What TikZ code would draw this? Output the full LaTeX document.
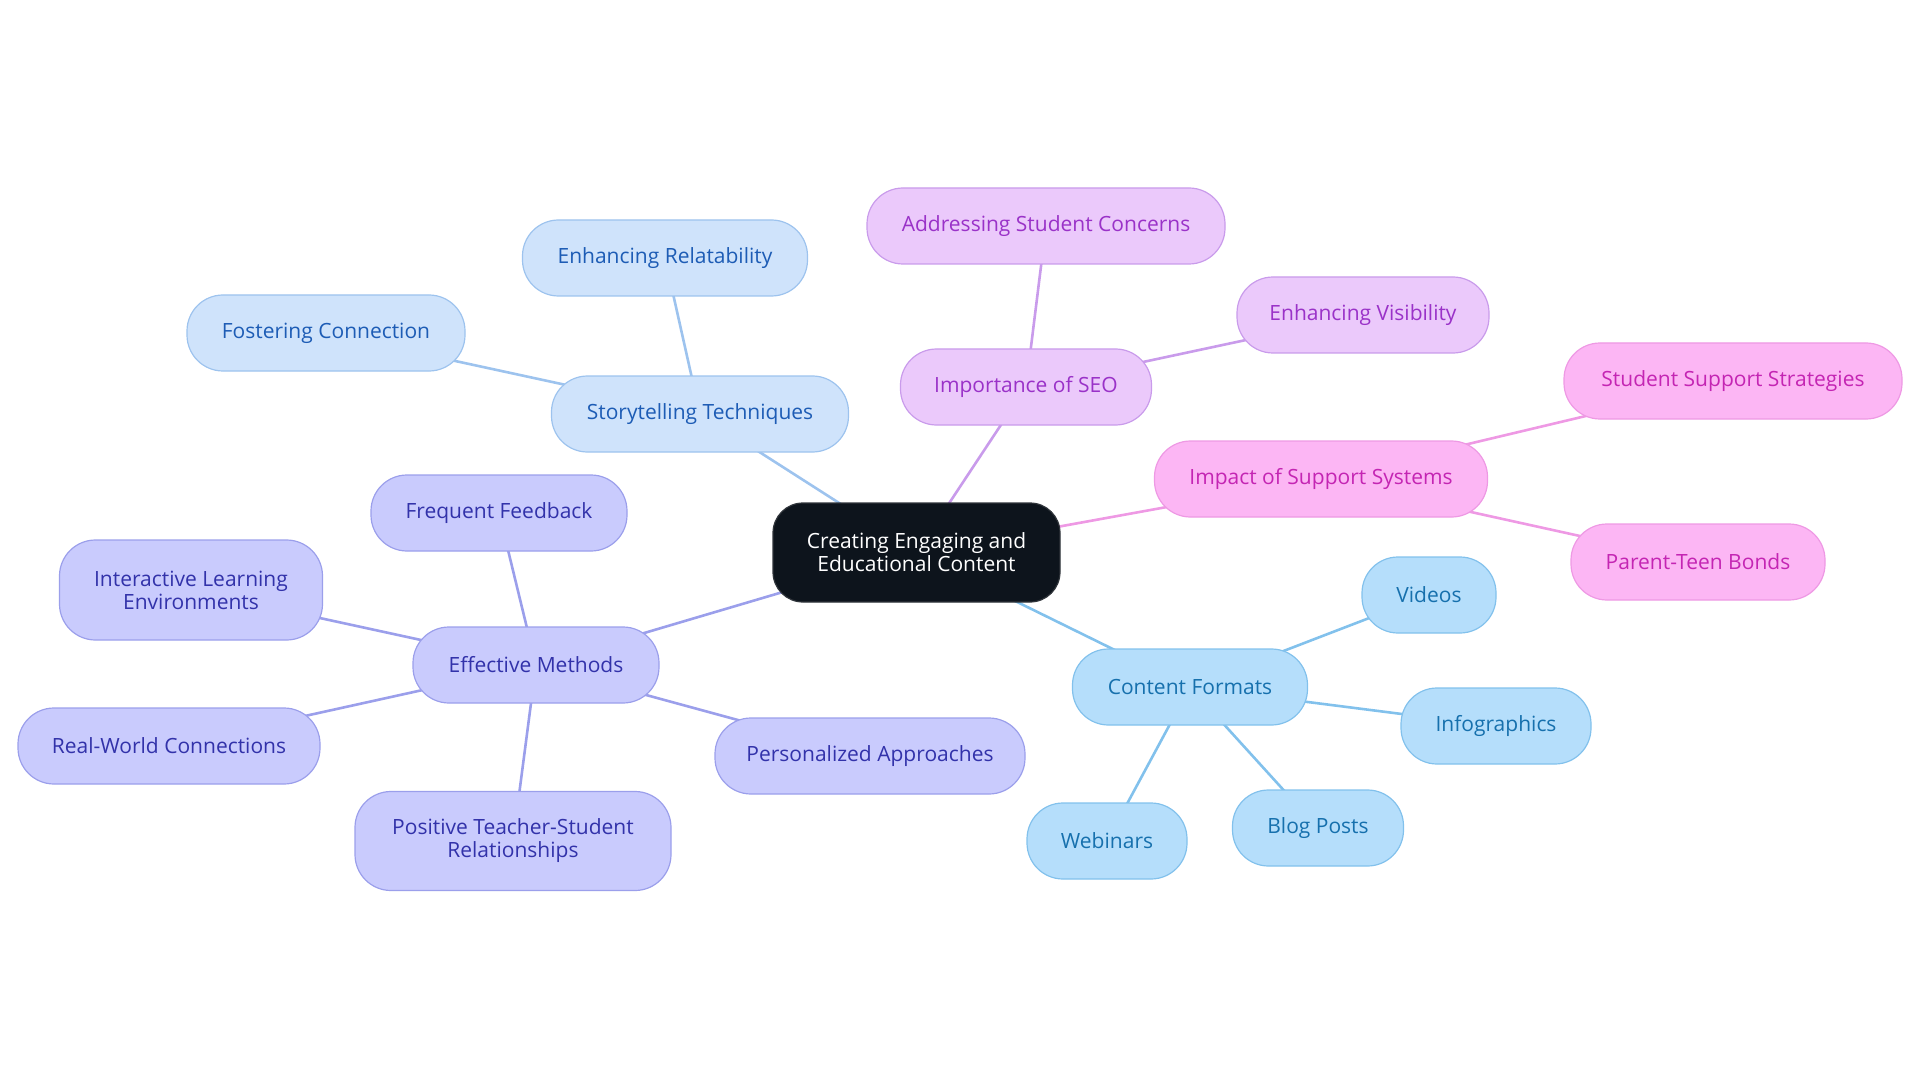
\documentclass[tikz,border=0pt]{standalone}
\usepackage{fontspec}
\setmainfont{Open Sans}
\usetikzlibrary{backgrounds}
\definecolor{rootfill}{HTML}{0D141C}
\definecolor{bfill}{HTML}{CFE3FB}\definecolor{bdraw}{HTML}{9DC3EE}\definecolor{btext}{HTML}{1D5CB5}
\definecolor{pfill}{HTML}{EBC9FB}\definecolor{pdraw}{HTML}{C99BEB}\definecolor{ptext}{HTML}{9A32C8}
\definecolor{kfill}{HTML}{FCB6F4}\definecolor{kdraw}{HTML}{EE99E4}\definecolor{ktext}{HTML}{C425B3}
\definecolor{cfill}{HTML}{B5DEFB}\definecolor{cdraw}{HTML}{82C1EC}\definecolor{ctext}{HTML}{1670AD}
\definecolor{ifill}{HTML}{C9CBFD}\definecolor{idraw}{HTML}{9B9FEB}\definecolor{itext}{HTML}{3232AA}
\tikzset{
  box/.style={rounded corners=36pt, minimum height=76pt, line width=1.2pt, align=center, inner sep=0pt,
    font=\fontsize{21}{23}\selectfont},
  bbox/.style={box, fill=bfill, draw=bdraw, text=btext},
  pbox/.style={box, fill=pfill, draw=pdraw, text=ptext},
  kbox/.style={box, fill=kfill, draw=kdraw, text=ktext},
  cbox/.style={box, fill=cfill, draw=cdraw, text=ctext},
  ibox/.style={box, fill=ifill, draw=idraw, text=itext},
  rootbox/.style={box, rounded corners=30pt, fill=rootfill, draw=rootfill!70!gray, text=white},
  bl/.style={draw=bdraw, line width=2.6pt},
  pl/.style={draw=pdraw, line width=2.6pt},
  kl/.style={draw=kdraw, line width=2.6pt},
  cl/.style={draw=cdraw, line width=2.6pt},
  il/.style={draw=idraw, line width=2.6pt},
}
\begin{document}
\begin{tikzpicture}[x=1pt,y=-1pt]
\useasboundingbox (0,0) rectangle (1920,1083);
\node[rootbox, minimum width=287pt, minimum height=99pt] (root) at (916.5,552.5) {Creating Engaging and\\Educational Content};
% storytelling
\node[bbox, minimum width=297pt] (st) at (700,414) {Storytelling Techniques};
\node[bbox, minimum width=285pt] (er) at (665,258) {Enhancing Relatability};
\node[bbox, minimum width=278pt] (fc) at (326,333) {Fostering Connection};
% SEO
\node[pbox, minimum width=251pt] (seo) at (1026,387) {Importance of SEO};
\node[pbox, minimum width=358pt] (asc) at (1046,226) {Addressing Student Concerns};
\node[pbox, minimum width=252pt] (ev) at (1363,315) {Enhancing Visibility};
% support
\node[kbox, minimum width=333pt] (iss) at (1321,479) {Impact of Support Systems};
\node[kbox, minimum width=338pt] (sss) at (1733,381) {Student Support Strategies};
\node[kbox, minimum width=254pt] (ptb) at (1698,562) {Parent-Teen Bonds};
% content formats
\node[cbox, minimum width=235pt] (cf) at (1190,687) {Content Formats};
\node[cbox, minimum width=134pt] (vid) at (1429,595) {Videos};
\node[cbox, minimum width=190pt] (inf) at (1496,726) {Infographics};
\node[cbox, minimum width=171pt] (bp) at (1318,828) {Blog Posts};
\node[cbox, minimum width=160pt] (web) at (1107,841) {Webinars};
% effective methods
\node[ibox, minimum width=246pt] (em) at (536,665) {Effective Methods};
\node[ibox, minimum width=256pt] (ff) at (499,513) {Frequent Feedback};
\node[ibox, minimum width=263pt, minimum height=100pt] (ile) at (191,590) {Interactive Learning\\Environments};
\node[ibox, minimum width=302pt] (rwc) at (169,746) {Real-World Connections};
\node[ibox, minimum width=316pt, minimum height=99pt] (pts) at (513,841) {Positive Teacher-Student\\Relationships};
\node[ibox, minimum width=310pt] (pa) at (870,756) {Personalized Approaches};
\begin{scope}[on background layer]
\draw[bl] (root.center) -- (st.center);
\draw[bl] (st.center) -- (er.center);
\draw[bl] (st.center) -- (fc.center);
\draw[pl] (root.center) -- (seo.center);
\draw[pl] (seo.center) -- (asc.center);
\draw[pl] (seo.center) -- (ev.center);
\draw[kl] (root.center) -- (iss.center);
\draw[kl] (iss.center) -- (sss.center);
\draw[kl] (iss.center) -- (ptb.center);
\draw[cl] (root.center) -- (cf.center);
\draw[cl] (cf.center) -- (vid.center);
\draw[cl] (cf.center) -- (inf.center);
\draw[cl] (cf.center) -- (bp.center);
\draw[cl] (cf.center) -- (web.center);
\draw[il] (root.center) -- (em.center);
\draw[il] (em.center) -- (ff.center);
\draw[il] (em.center) -- (ile.center);
\draw[il] (em.center) -- (rwc.center);
\draw[il] (em.center) -- (pts.center);
\draw[il] (em.center) -- (pa.center);
\end{scope}
\end{tikzpicture}
\end{document}
